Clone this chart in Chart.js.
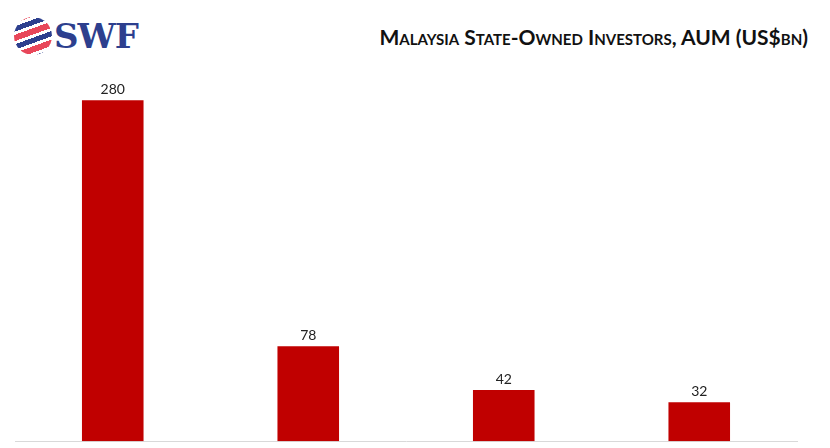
<!DOCTYPE html>
<html>
<head>
<meta charset="utf-8">
<script src="https://cdn.jsdelivr.net/npm/chart.js@4"></script>
<style>
  body { margin: 0; width: 830px; height: 448px; background: #fff; position: relative; font-family: Lato, sans-serif; overflow: hidden; }
  #logo { position: absolute; left: 14px; top: 14px; height: 44px; display: flex; align-items: center; }
  #globe { width: 38px; height: 38px; border-radius: 50%;
    background: repeating-linear-gradient(160deg, #e8475a 0 6px, #fff 6px 9px, #2d3f8e 9px 14px, #fff 14px 17px); }
  #logo span { font-family: "DejaVu Serif", serif; font-weight: bold; font-size: 34px; color: #2d3f8e; margin-left: 2px; letter-spacing: -1px; }
  #title { position: absolute; right: 22px; top: 24px; font-weight: bold; font-size: 21px; font-variant: small-caps; color: #111; }
  #wrap { position: absolute; left: 0; top: 0; width: 830px; height: 482px; }
</style>
</head>
<body>
<div id="logo"><div id="globe"></div><span>SWF</span></div>
<div id="title">Malaysia State-Owned Investors, AUM (US$bn)</div>
<div id="wrap"><canvas id="myChart" width="830" height="482"></canvas></div>
<script>
// chart data
const categories = ["EPF", "PNB", "KWAP", "Khazanah"];
const aumValues = [280, 78, 42, 32];

// draws the value above each bar
const valueLabels = {
  id: "valueLabels",
  afterDatasetsDraw(chart) {
    const ctx = chart.ctx;
    ctx.save();
    ctx.font = "14px Lato";
    ctx.fillStyle = "#222";
    ctx.textAlign = "center";
    ctx.textBaseline = "bottom";
    chart.getDatasetMeta(0).data.forEach((bar, i) => {
      ctx.fillText(aumValues[i], bar.x, bar.y - 4);
    });
    ctx.restore();
  },
};

var ctx = document.getElementById("myChart");
var myChart = new Chart(ctx, {
  type: "bar",
  data: {
    labels: categories,
    datasets: [
      {
        data: aumValues,
        backgroundColor: "#c00000",
        categoryPercentage: 1,
        barPercentage: 0.315,
      },
    ],
  },
  options: {
    responsive: false,
    animation: false,
    layout: { padding: { left: 15, right: 33, top: 76, bottom: 0 } },
    plugins: { legend: { display: false }, tooltip: { enabled: false } },
    scales: {
      x: {
        grid: { display: false },
        border: { color: "#d9d9d9", width: 1 },
        ticks: { color: "#222", font: { family: "Lato", size: 14 }, padding: 8 },
      },
      y: { display: false, min: 0, max: 300 },
    },
  },
  plugins: [valueLabels],
});
</script>
</body>
</html>
